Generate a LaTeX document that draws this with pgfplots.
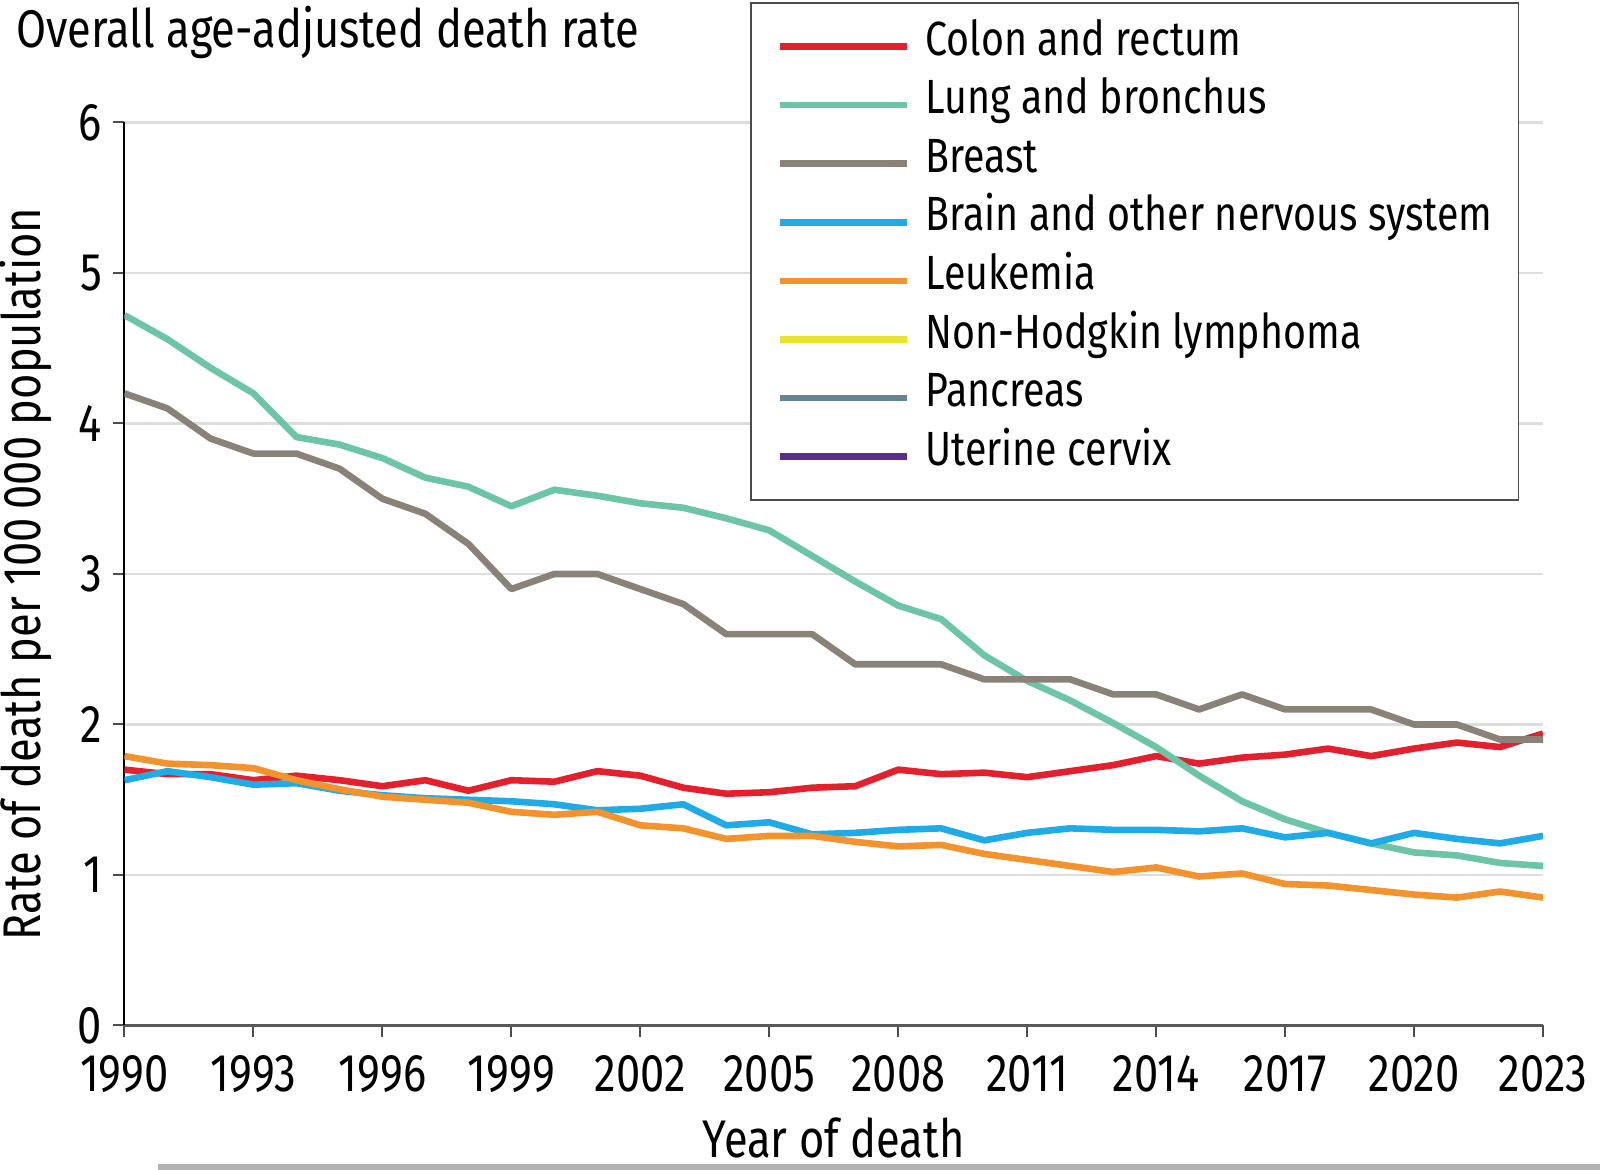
\documentclass[border=0pt]{standalone}
\usepackage{fontspec}
\setmainfont{Fira Sans}[FakeStretch=0.82]
\usepackage{pgfplots}
\usepackage{pgfplotstable}
\pgfplotsset{compat=1.18}

\definecolor{colon}{HTML}{E3202B}
\definecolor{lung}{HTML}{6CC5A6}
\definecolor{breast}{HTML}{8A8276}
\definecolor{brain}{HTML}{1FABE6}
\definecolor{leuk}{HTML}{F3932D}
\definecolor{nhl}{HTML}{E6E52B}
\definecolor{panc}{HTML}{5F8692}
\definecolor{cervix}{HTML}{5B2D8F}
\definecolor{gridc}{HTML}{DDDDDD}

% age-adjusted death rate per 100000
\pgfplotstableread{
year colon lung breast brain leuk
1990 1.70 4.72 4.20 1.63 1.79
1991 1.67 4.56 4.10 1.69 1.74
1992 1.67 4.37 3.90 1.65 1.73
1993 1.63 4.20 3.80 1.60 1.71
1994 1.66 3.91 3.80 1.61 1.63
1995 1.63 3.86 3.70 1.56 1.57
1996 1.59 3.77 3.50 1.53 1.52
1997 1.63 3.64 3.40 1.51 1.50
1998 1.56 3.58 3.20 1.50 1.48
1999 1.63 3.45 2.90 1.49 1.42
2000 1.62 3.56 3.00 1.47 1.40
2001 1.69 3.52 3.00 1.43 1.42
2002 1.66 3.47 2.90 1.44 1.33
2003 1.58 3.44 2.80 1.47 1.31
2004 1.54 3.37 2.60 1.33 1.24
2005 1.55 3.29 2.60 1.35 1.26
2006 1.58 3.12 2.60 1.27 1.26
2007 1.59 2.95 2.40 1.28 1.22
2008 1.70 2.79 2.40 1.30 1.19
2009 1.67 2.70 2.40 1.31 1.20
2010 1.68 2.46 2.30 1.23 1.14
2011 1.65 2.29 2.30 1.28 1.10
2012 1.69 2.16 2.30 1.31 1.06
2013 1.73 2.01 2.20 1.30 1.02
2014 1.79 1.85 2.20 1.30 1.05
2015 1.74 1.66 2.10 1.29 0.99
2016 1.78 1.49 2.20 1.31 1.01
2017 1.80 1.37 2.10 1.25 0.94
2018 1.84 1.28 2.10 1.28 0.93
2019 1.79 1.21 2.10 1.21 0.90
2020 1.84 1.15 2.00 1.28 0.87
2021 1.88 1.13 2.00 1.24 0.85
2022 1.85 1.08 1.90 1.21 0.89
2023 1.94 1.06 1.90 1.26 0.85
}\rates

\begin{document}
\fontsize{26.5}{30}\selectfont
\begin{tikzpicture}
\useasboundingbox (0,0) rectangle (800pt,585pt);
\node[anchor=base west, inner sep=0pt] at (8pt,561pt) {Overall age-adjusted death rate};
\begin{axis}[
    scale only axis,
    width=709.25pt, height=451.5pt,
    at={(62.25pt,72.25pt)}, anchor=south west,
    xmin=1990, xmax=2023, ymin=0, ymax=6,
    axis x line*=bottom, axis y line*=left,
    x axis line style={black!65, line width=1.1pt},
    y axis line style={black, line width=1pt},
    xtick={1990,1993,...,2023}, ytick={0,1,...,6},
    tick align=outside, major tick length=6pt,
    tick style={black!70, line width=1pt},
    ymajorgrids, grid style={gridc, line width=1.3pt},
    /pgf/number format/assume math mode=true,
    /pgf/number format/1000 sep={},
    xticklabel style={anchor=north, inner sep=0pt, yshift=-9pt},
    yticklabel style={anchor=east, inner sep=0pt, xshift=-5pt},
    xlabel={Year of death},
    xlabel style={at={(axis description cs:0.5,0)}, anchor=base, yshift=-66pt},
    ylabel={Rate of death per 100\,000 population},
    ylabel style={at={(axis description cs:0,0.5)}, anchor=base, yshift=41.75pt},
    legend cell align=left,
    legend style={at={(rel axis cs:0.441,0.5808)}, anchor=south west,
        draw=black!70, line width=0.8pt, fill=white, font=\fontsize{24}{28}\selectfont,
        inner xsep=13pt, inner ysep=7.1pt, row sep=0pt, column sep=7.5pt,
        nodes={inner sep=0pt, text height=18.9pt, text depth=10.4pt}},
    legend image code/.code={\draw[#1] (0pt,0pt) -- (63.5pt,0pt);},
    every axis plot/.append style={line width=3.3pt, line join=round},
]
\addplot[colon] table[x=year, y=colon] {\rates};
\addlegendentry{Colon and rectum}
\addplot[lung] table[x=year, y=lung] {\rates};
\addlegendentry{Lung and bronchus}
\addplot[breast] table[x=year, y=breast] {\rates};
\addlegendentry{Breast}
\addplot[brain] table[x=year, y=brain] {\rates};
\addlegendentry{Brain and other nervous system}
\addplot[leuk] table[x=year, y=leuk] {\rates};
\addlegendentry{Leukemia}
\addlegendimage{nhl, line width=3.3pt}
\addlegendentry{Non-Hodgkin lymphoma}
\addlegendimage{panc, line width=3.3pt}
\addlegendentry{Pancreas}
\addlegendimage{cervix, line width=3.3pt}
\addlegendentry{Uterine cervix}
\end{axis}
\fill[black!30] (79pt,0pt) rectangle (800pt,3.2pt);
\end{tikzpicture}
\end{document}
